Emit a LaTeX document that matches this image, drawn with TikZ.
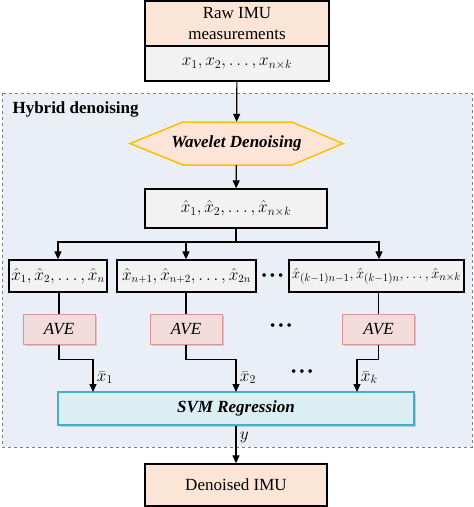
\documentclass[tikz,border=0pt]{standalone}
\usepackage{fontspec}
\setmainfont{Liberation Serif}
\usepackage{tikz}
\usetikzlibrary{arrows.meta,shadows}
\definecolor{peach}{HTML}{FBE5D6}
\definecolor{boxgray}{HTML}{F2F2F2}
\definecolor{bgblue}{HTML}{E9EEF7}
\definecolor{avefill}{HTML}{F2DCDB}
\definecolor{aveline}{HTML}{D99694}
\definecolor{svmfill}{HTML}{DAEEF3}
\definecolor{svmline}{HTML}{4BACC6}
\definecolor{wavfill}{HTML}{FCE4D6}
\definecolor{wavline}{HTML}{FFC000}
\tikzset{
  box/.style={draw=black, line width=1.3pt, inner sep=0pt, align=center,
    font=\fontsize{17}{21}\selectfont},
  rowbox/.style={box, fill=boxgray, minimum height=32pt, font=\fontsize{16}{20}\selectfont},
  avebox/.style={draw=aveline, fill=avefill, line width=1pt, inner sep=0pt,
    minimum width=72pt, minimum height=30pt, font=\fontsize{17}{21}\selectfont\itshape,
    drop shadow={shadow xshift=1.5pt, shadow yshift=-1.5pt, fill=aveline, opacity=0.5}},
  arr/.style={line width=1.2pt, -{Triangle[length=8pt,width=7pt]}},
  link/.style={line width=1.2pt},
  dots/.style={font=\fontsize{15}{15}\selectfont}
}
\newcommand{\tdots}{\textbullet\hspace{3pt}\textbullet\hspace{3pt}\textbullet}

\begin{document}
\begin{tikzpicture}[x=1pt, y=-1pt]
    \useasboundingbox (0,0) rectangle (474,507);

    % hybrid region
    \draw [gray, dashed, fill=bgblue] (2,93) rectangle (472,447);
    \node [anchor=west, font=\fontsize{17}{21}\selectfont\bfseries] (hyb) at (9,109) {Hybrid denoising};

    % input
    \node [box, fill=peach, minimum width=184pt, minimum height=45pt] (raw) at (237,23.5) {Raw IMU\\measurements};
    \node [box, fill=boxgray, minimum width=184pt, minimum height=35pt] (rawx) at (237,63.5) {$x_1, x_2, \ldots, x_{n\times k}$};

    % wavelet stage
    \draw [wavline, fill=wavfill, line width=1.5pt] (130,143.5) -- (183,122) -- (292,122) -- (343,143.5) -- (292,165) -- (183,165) -- cycle;
    \node [minimum width=213pt, minimum height=43pt, inner sep=0pt, font=\fontsize{17}{21}\selectfont\bfseries\itshape] (wav) at (236.5,143.5) {Wavelet Denoising};

    \node [box, fill=boxgray, minimum width=182pt, minimum height=39pt] (hat) at (236,208.5) {$\hat{x}_1, \hat{x}_2, \ldots, \hat{x}_{n\times k}$};

    % groups
    \node [rowbox, minimum width=98pt] (b1) at (58,276) {$\hat{x}_1, \hat{x}_2, \ldots, \hat{x}_n$};
    \node [rowbox, minimum width=139pt] (b2) at (186.5,276) {$\hat{x}_{n+1}, \hat{x}_{n+2}, \ldots, \hat{x}_{2n}$};
    \node [rowbox, minimum width=175pt, font=\fontsize{15}{18}\selectfont] (b3) at (376.5,276) {$\hat{x}_{(k-1)n-1}, \hat{x}_{(k-1)n}, \ldots, \hat{x}_{n\times k}$};
    \node [dots] (bdots) at (272.5,277) {\tdots};

    \foreach \i/\x in {1/59, 2/186, 3/378.5}
        \node [avebox] (a\i) at (\x,329) {AVE};
    \node [dots] (adots) at (281,327) {\tdots};

    \node [draw=svmline, fill=svmfill, line width=1.3pt, inner sep=0pt, minimum width=356pt, minimum height=33pt,
        font=\fontsize{17}{21}\selectfont\bfseries\itshape,
        drop shadow={shadow xshift=1.5pt, shadow yshift=-1.5pt, fill=svmline, opacity=0.4}] (svm) at (236,408.5) {SVM Regression};
    \node [dots] (sdots) at (302,373) {\tdots};

    \node [box, fill=peach, minimum width=182pt, minimum height=42pt] (out) at (236,485) {Denoised IMU};

    % connectors
    \draw [arr] (rawx) -- (wav);
    \draw [arr] (wav) -- (hat);
    \coordinate (split) at (236,242);
    \draw [link] (hat.south) -- (split);
    \draw [arr] (split) -| (b1.north);
    \draw [arr] (split) -| ([xshift=-0.5pt]b2.north);
    \draw [arr] (split) -| ([xshift=2.5pt]b3.north);
    \foreach \i in {1,2,3}
        \draw [link] (b\i.south -| a\i) -- (a\i.north);

    \coordinate (in1) at (93,392);
    \coordinate (in2) at (236,392);
    \coordinate (in3) at (357,392);
    \draw [arr] (a1.south) -- ++(0,15) -| node [pos=0.78, right, font=\fontsize{17}{21}\selectfont] {$\bar{x}_1$} (in1);
    \draw [arr] (a2.south) -- ++(0,15) -| node [pos=0.78, right, font=\fontsize{17}{21}\selectfont] {$\bar{x}_2$} (in2);
    \draw [arr] (a3.south) -- ++(0,15) -| node [pos=0.78, right, font=\fontsize{17}{21}\selectfont] {$\bar{x}_k$} (in3);

    \draw [arr] (svm) -- node [pos=0.3, right, font=\fontsize{17}{21}\selectfont] {$y$} (out);

\end{tikzpicture}
\end{document}
